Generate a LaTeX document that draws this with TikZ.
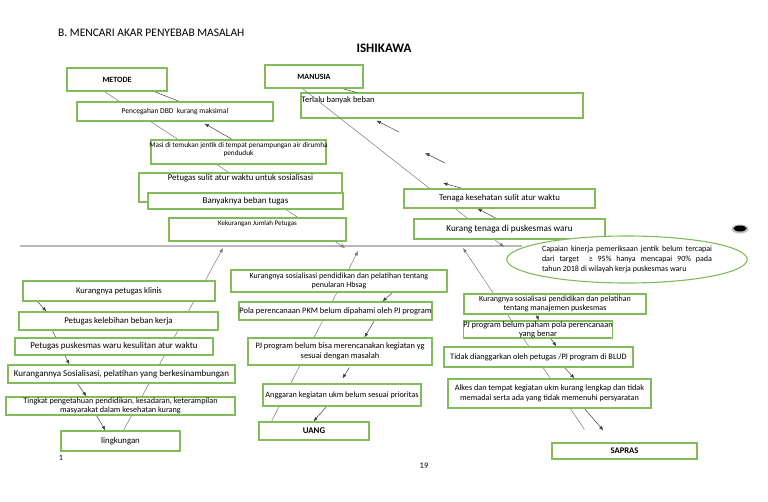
\documentclass[tikz,border=0pt]{standalone}
\usepackage{fontspec}
\setmainfont{Carlito}
\usetikzlibrary{arrows.meta,shapes.geometric,backgrounds}
\definecolor{hijau}{RGB}{130,188,90}
\definecolor{garis}{RGB}{120,120,120}
\newcommand\ukuran[1]{\fontsize{#1}{\dimexpr#1pt*6/5\relax}\selectfont}
\tikzset{
  kotak/.style={draw=hijau, line width=1.1pt, fill=white, inner sep=0pt, align=center, text=black},
  huruf/.style={font=\ukuran{#1}},
  kategori/.style={kotak, font=\ukuran{#1}\bfseries},
  tulang/.style={draw=garis, line width=0.5pt, -{Latex[length=4.5pt,width=3.5pt]}},
  panah/.style={draw=black!75, line width=0.5pt, -{Latex[length=4.5pt,width=3.5pt]}},
}
\begin{document}
\begin{tikzpicture}[x=1pt,y=-1pt]
\useasboundingbox (0,0) rectangle (768,501);
% judul
\node[huruf=11.5, anchor=west, inner sep=0pt] (judul) at (58,33) {B. MENCARI AKAR PENYEBAB MASALAH};
\node[font=\ukuran{13}\bfseries, inner sep=0pt] (ishikawa) at (384,48) {ISHIKAWA};
% metode
\node[kategori=8, minimum width=100pt, minimum height=23pt] (metode) at (117,79.5) {METODE};
\node[kotak, huruf=7.5, minimum width=196pt, minimum height=19pt] (cegah) at (175,111.5) {Pencegahan DBD\ \ kurang maksimal};
\node[kotak, minimum width=175pt, minimum height=24pt,
  label={[huruf=7.3, anchor=north, inner sep=1pt, yshift=-1.5pt, align=center]north:Masi di temukan jentik di tempat penampungan air dirumha\\penduduk}] (masi) at (238.5,152) {};
\node[kotak, minimum width=203pt, minimum height=29pt,
  label={[huruf=8.8, anchor=north, inner sep=1pt, yshift=-0.5pt]north:Petugas sulit atur waktu untuk sosialisasi}] (sulit) at (240.5,187.5) {};
\node[kotak, huruf=9, minimum width=195pt, minimum height=16pt] (banyak) at (245.5,201) {Banyaknya beban tugas};
\node[kotak, minimum width=177pt, minimum height=23pt,
  label={[huruf=7, anchor=north, inner sep=1.5pt, yshift=-1.5pt]north:Kekurangan Jumlah Petugas}] (kurangjml) at (257.5,229.5) {};
% manusia
\node[kategori=8, minimum width=98pt, minimum height=23pt] (manusia) at (314,76.5) {MANUSIA};
\node[kotak, huruf=8.8, minimum width=191pt, minimum height=19pt] (tenaga) at (499.5,198.5) {Tenaga kesehatan sulit atur waktu};
\node[kotak, huruf=9.2, minimum width=191pt, minimum height=20pt] (kurangtng) at (509.5,229) {Kurang tenaga di puskesmas waru};
% masalah
\node[ellipse, draw=hijau, line width=1.1pt, fill=white, minimum width=240pt, minimum height=47pt,
  inner sep=0pt, text width=170pt, align=justify, huruf=8, text=black] (masalah) at (627,259.5)
  {Capaian kinerja pemeriksaan jentik belum tercapai\linebreak
   dari target \ ≥ 95\% hanya mencapai 90\% pada\linebreak
   tahun 2018 di wilayah kerja puskesmas waru};
\fill[black!25] (740,229) ellipse (8.5pt and 4.5pt);
\fill[black] (740,228.5) ellipse (6.5pt and 3pt);
% lingkungan
\node[kotak, huruf=8.6, minimum width=192pt, minimum height=20pt] (klinis) at (119,291) {Kurangnya petugas klinis};
\node[kotak, huruf=8.8, minimum width=199pt, minimum height=18pt] (kelebihan) at (118.5,321) {Petugas kelebihan beban kerja};
\node[kotak, huruf=9, minimum width=198pt, minimum height=17pt] (waru) at (114,346.5) {Petugas puskesmas waru kesulitan atur waktu};
\node[kotak, huruf=9, minimum width=227pt, minimum height=18pt] (sosialisasi) at (121.5,374) {Kurangannya Sosialisasi, pelatihan yang berkesinambungan};
\node[kotak, font=\fontsize{8.2}{9.6}\selectfont, minimum width=229pt, minimum height=18pt] (tingkat) at (120.5,406) {Tingkat pengetahuan pendidikan, kesadaran, keterampilan\\masyarakat dalam kesehatan kurang};
\node[kotak, huruf=8.8, minimum width=119pt, minimum height=20pt] (lingkungan) at (120.5,441) {lingkungan};
% uang
\node[kotak, huruf=8, minimum width=216pt, minimum height=22pt] (hbsag) at (339,281) {Kurangnya sosialisasi pendidikan dan pelatihan tentang\\penularan Hbsag};
\node[kotak, huruf=8.4, minimum width=193pt, minimum height=18pt] (pola) at (335.5,311) {Pola perencanaan PKM belum dipahami oleh PJ program};
\node[kotak, huruf=8.4, minimum width=184pt, minimum height=27pt] (pjbisa) at (340,351.5) {PJ program belum bisa merencanakan kegiatan yg\\sesuai dengan masalah};
\node[kotak, huruf=8.2, minimum width=158pt, minimum height=22pt] (anggaran) at (342,395) {Anggaran kegiatan ukm belum sesuai prioritas};
\node[kategori=8.8, minimum width=110pt, minimum height=18pt] (uang) at (314,431) {UANG};
% sapras
\node[kotak, huruf=8, minimum width=182pt, minimum height=20pt] (manaj) at (555,304) {Kurangnya sosialisasi pendidikan dan pelatihan\\tentang manajemen puskesmas};
\node[kotak, font=\fontsize{8.4}{9}\selectfont, minimum width=148pt, minimum height=17pt] (pjpaham) at (538,329.5) {PJ program belum paham pola perencanaan\\yang benar};
\node[kotak, huruf=8.3, minimum width=189pt, minimum height=20pt] (tidak) at (538.5,357) {Tidak dianggarkan oleh petugas /PJ program di BLUD};
\node[kotak, huruf=8.2, minimum width=203pt, minimum height=29pt] (alkes) at (549.5,393.5) {Alkes dan tempat kegiatan ukm kurang lengkap dan tidak\\memadai serta ada yang tidak memenuhi persyaratan};
\node[kategori=8.6, minimum width=145pt, minimum height=16pt] (sapras) at (624.5,451) {SAPRAS};
% nomor halaman
\node[huruf=8, inner sep=0pt] (nomor1) at (61,458) {1};
\node[huruf=8.5, inner sep=0pt] (nomor19) at (424,466) {19};
% titik bebas
\coordinate (spL) at (20,246);
\coordinate (spR) at (522,246);
\coordinate (u1) at (345,248);
\coordinate (u2) at (504,247);
\coordinate (d1) at (223,248);
\coordinate (d2) at (358,251);
\coordinate (d3) at (463,248);
\coordinate (b1) at (399,132);
\coordinate (b2) at (445,163);
\coordinate (b3) at (425,153);
\coordinate (b4) at (443,183);
\begin{scope}[on background layer]
\node[kotak, minimum width=282pt, minimum height=25pt,
  label={[huruf=8.5, anchor=north west, inner sep=1pt, yshift=-2.5pt, text=black]north west:Terlalu banyak beban}] (terlalu) at (442,105.5) {};
% tulang utama
\draw[line width=1.6pt, black!28] (spL) -- (spR);
\draw[tulang] ([xshift=38pt]metode.south west) -- (u1);
\draw[tulang] ([xshift=38pt]manusia.south west) -- (u2);
\draw[tulang] ([xshift=63pt]lingkungan.north west) -- (d1);
\draw[tulang] ([xshift=13pt]uang.north west) -- (d2);
\draw[tulang] ([xshift=33pt,yshift=13pt]sapras.north west) -- (d3);
% panah sebab
\draw[panah] ([xshift=103pt]cegah.north west) -- ([xshift=75pt,yshift=5pt]metode.south west);
\draw[panah] ([xshift=82pt]masi.north west) -- ([xshift=128pt,yshift=-2pt]cegah.south west);
\draw[panah] ([xshift=56pt]terlalu.north west) -- ([xshift=63pt,yshift=4pt]manusia.south west);
\draw[panah] (b1) -- ([xshift=76pt,yshift=-2pt]terlalu.south west);
\draw[panah] (b2) -- (b3);
\draw[panah] ([xshift=59pt]tenaga.north west) -- (b4);
\draw[panah] ([xshift=83pt]kurangtng.north west) -- ([xshift=74pt]tenaga.south west);
\draw[panah] ([xshift=15pt]klinis.south west) -- ([xshift=28pt]kelebihan.north west);
\draw[panah] ([xshift=34pt]kelebihan.south west) -- ([xshift=62pt]sosialisasi.north west);
\draw[panah] ([xshift=70pt]sosialisasi.south west) -- ([xshift=81pt]tingkat.north west);
\draw[panah] ([xshift=91pt]tingkat.south west) -- ([xshift=45pt]lingkungan.north west);
\draw[panah] ([xshift=162pt]hbsag.south west) -- ([xshift=144pt]pola.north west);
\draw[panah] ([xshift=136pt]pola.south west) -- ([xshift=117pt]pjbisa.north west);
\draw[panah] ([xshift=102pt,yshift=-2pt]pjbisa.south west) -- ([xshift=80pt,yshift=5pt]anggaran.north west);
\draw[panah] ([xshift=64pt]anggaran.south west) -- ([xshift=55pt]uang.north west);
\draw[panah] ([xshift=73pt]manaj.south west) -- ([xshift=76pt]pjpaham.north west);
\draw[panah] ([xshift=88pt]pjpaham.south west) -- ([xshift=113pt]tidak.north west);
\draw[panah] ([xshift=121pt]tidak.south west) -- ([xshift=127pt]alkes.north west);
\draw[panah] ([xshift=137pt]alkes.south west) -- ([xshift=52pt,yshift=12pt]sapras.north west);
\end{scope}
\end{tikzpicture}
\end{document}
